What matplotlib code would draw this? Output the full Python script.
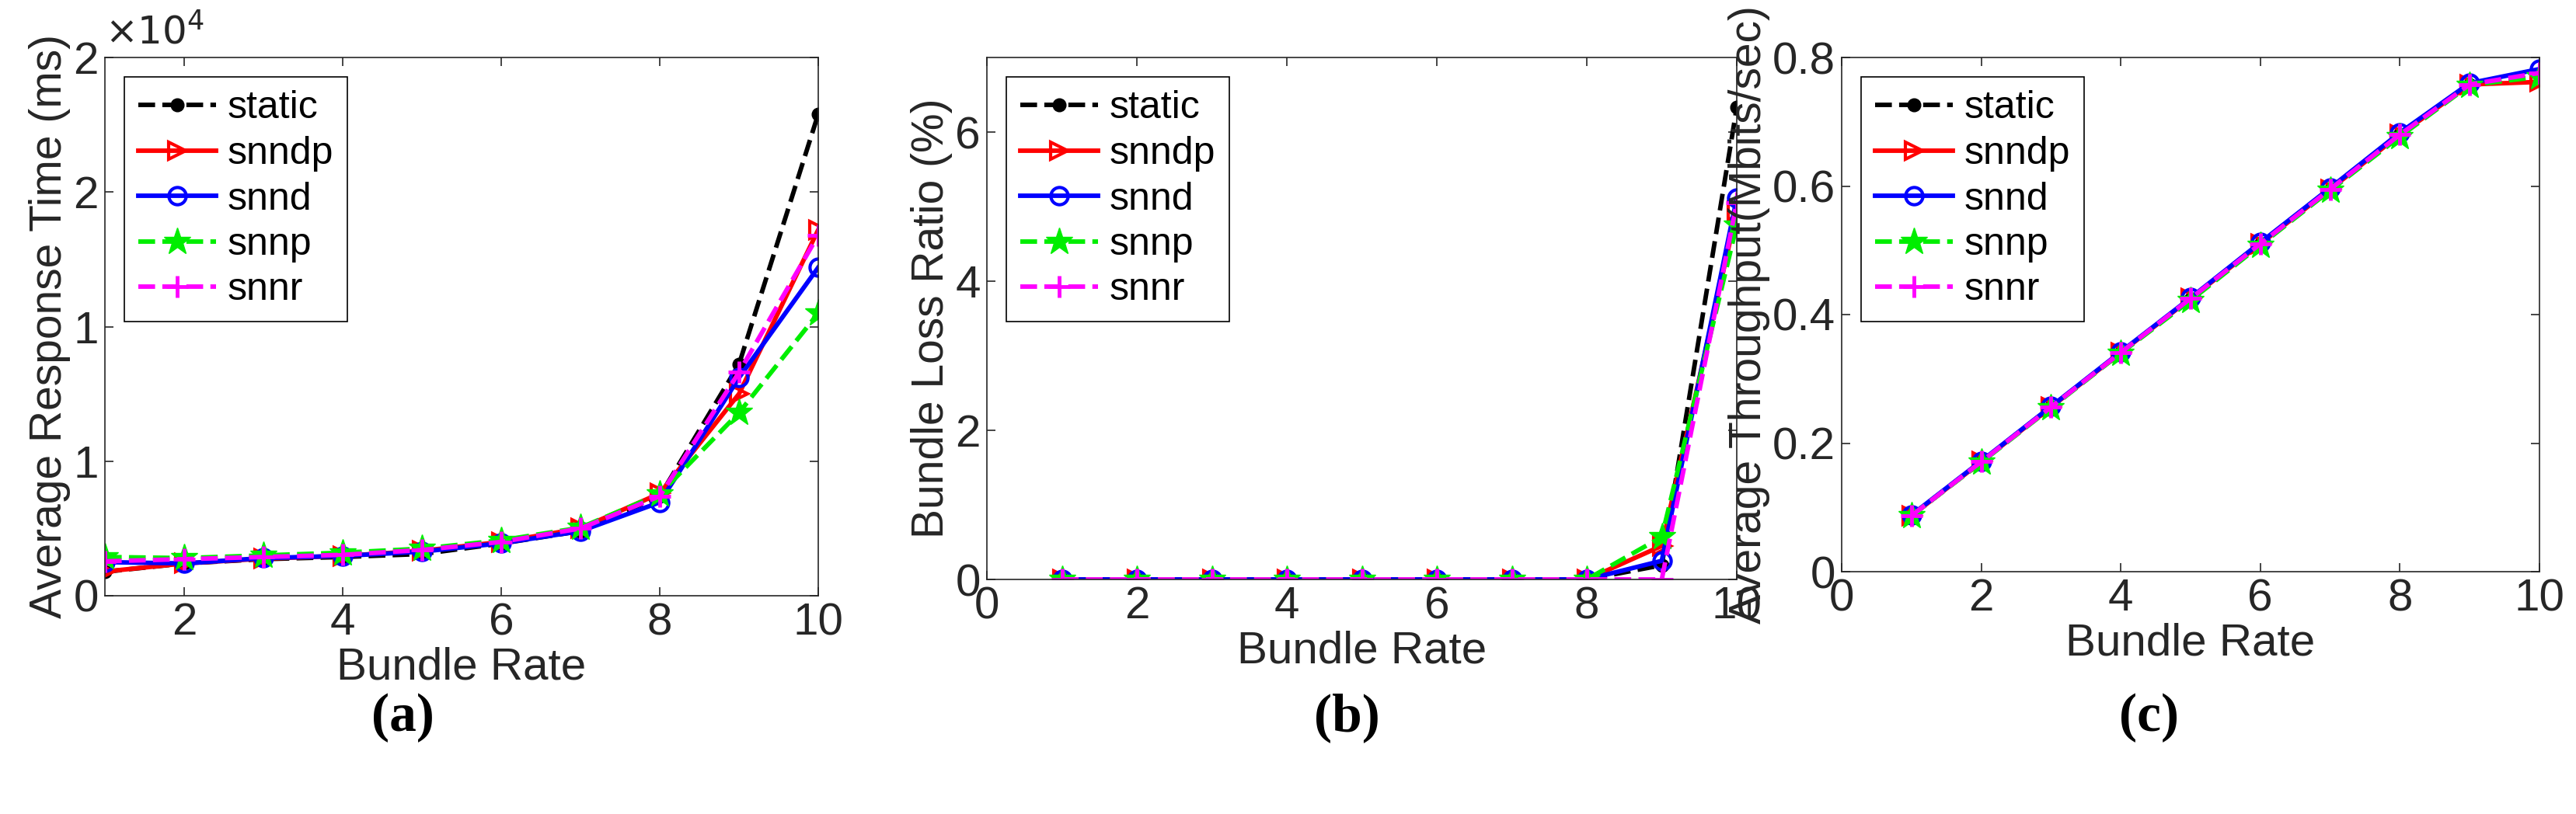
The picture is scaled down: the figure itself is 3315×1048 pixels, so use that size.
import matplotlib
matplotlib.use("Agg")
import matplotlib.pyplot as plt
from matplotlib.ticker import FixedLocator, FixedFormatter

plt.rcParams['font.family'] = ['Liberation Sans', 'DejaVu Sans']

bundle_rate = [1, 2, 3, 4, 5, 6, 7, 8, 9, 10]
names = ['static', 'snndp', 'snnd', 'snnp', 'snnr']

# (a) average response time, x 10^4 ms
resp_static = [0.089, 0.12, 0.136, 0.144, 0.155, 0.194, 0.24, 0.37, 0.86, 1.79]
resp_snndp = [0.09, 0.12, 0.138, 0.148, 0.167, 0.20, 0.25, 0.38, 0.75, 1.36]
resp_snnd = [0.125, 0.12, 0.14, 0.148, 0.164, 0.195, 0.24, 0.347, 0.81, 1.22]
resp_snnp = [0.144, 0.14, 0.15, 0.16, 0.175, 0.206, 0.253, 0.378, 0.68, 1.05]
resp_snnr = [0.128, 0.136, 0.144, 0.152, 0.17, 0.20, 0.25, 0.37, 0.83, 1.34]

# (b) bundle loss ratio, %
loss_static = [0, 0, 0, 0, 0, 0, 0, 0, 0.19, 6.33]
loss_snndp = [0, 0, 0, 0, 0, 0, 0, 0, 0.45, 4.94]
loss_snnd = [0, 0, 0, 0, 0, 0, 0, 0, 0.25, 5.11]
loss_snnp = [0, 0, 0, 0, 0, 0, 0, 0, 0.57, 4.75]
loss_snnr = [0, 0, 0, 0, 0, 0, 0, 0, 0, 5.05]

# (c) average throughput, Mbits/sec
thr_static = [0.087, 0.171, 0.256, 0.341, 0.424, 0.51, 0.595, 0.68, 0.758, 0.775]
thr_snndp = [0.087, 0.171, 0.256, 0.341, 0.425, 0.51, 0.595, 0.68, 0.758, 0.762]
thr_snnd = [0.088, 0.172, 0.257, 0.342, 0.426, 0.512, 0.597, 0.683, 0.76, 0.782]
thr_snnp = [0.087, 0.17, 0.255, 0.34, 0.422, 0.508, 0.593, 0.677, 0.757, 0.77]
thr_snnr = [0.087, 0.171, 0.256, 0.341, 0.425, 0.51, 0.595, 0.68, 0.758, 0.776]

styles = [
    dict(color='black', ls='--', marker='.', ms=24),
    dict(color='red', ls='-', marker='>', ms=16, mfc='none', mew=3),
    dict(color='blue', ls='-', marker='o', ms=16, mfc='none', mew=3),
    dict(color='#00ee00', ls='--', marker='*', ms=26),
    dict(color='magenta', ls='--', marker='+', ms=20, mew=3.5),
]

W, H = 3315, 1048
fig = plt.figure(figsize=(W / 100, H / 100), dpi=100)

def mkax(l, r, t, b):
    return fig.add_axes([l / W, 1 - b / H, (r - l) / W, (b - t) / H])

axa = mkax(135, 1053, 74, 767)
axb = mkax(1270, 2235, 74, 746)
axc = mkax(2370, 3268, 74, 736)

panels = [
    (axa, [resp_static, resp_snndp, resp_snnd, resp_snnp, resp_snnr], 'Average Response Time (ms)'),
    (axb, [loss_static, loss_snndp, loss_snnd, loss_snnp, loss_snnr], 'Bundle Loss Ratio (%)'),
    (axc, [thr_static, thr_snndp, thr_snnd, thr_snnp, thr_snnr], 'Average Throughput(Mbits/sec)'),
]

for ax, series, ylab in panels:
    for name, vals, st in zip(names, series, styles):
        ax.plot(bundle_rate, vals, lw=4.2, label=name, **st)
    ax.set_xlabel('Bundle Rate', fontsize=42, color='#262626', labelpad=2)
    ax.set_ylabel(ylab, fontsize=41, color='#262626', labelpad=2)
    ax.tick_params(labelsize=42, colors='#262626', direction='in', length=8,
                   top=True, right=True, width=1.2, pad=6)
    for s in ax.spines.values():
        s.set_linewidth(1.2)
        s.set_color('#262626')
    leg = ax.legend(loc='upper left', fontsize=36, fancybox=False, framealpha=1,
                    edgecolor='black', handlelength=2.0, handletextpad=0.3,
                    borderpad=0.35, labelspacing=0.25)
    leg.get_frame().set_linewidth(1.2)

axa.set_xlim(1, 10)
axa.set_xticks([2, 4, 6, 8, 10])
axa.set_ylim(0, 2)
axa.yaxis.set_major_locator(FixedLocator([0, 0.5, 1, 1.5, 2]))
axa.yaxis.set_major_formatter(FixedFormatter(['0', '1', '1', '2', '2']))
axa.text(0.0, 1.01, r'$\times10^4$', transform=axa.transAxes, fontsize=36,
         color='#262626', va='bottom', ha='left')

axb.set_xlim(0, 10)
axb.set_ylim(0, 7)
axb.set_xticks([0, 2, 4, 6, 8, 10])

axc.set_xlim(0, 10)
axc.set_ylim(0, 0.8)
axc.set_xticks([0, 2, 4, 6, 8, 10])
axc.set_yticks([0, 0.2, 0.4, 0.6, 0.8])
axc.set_yticklabels(['0', '0.2', '0.4', '0.6', '0.8'])

for x, lab in [(518, '(a)'), (1733, '(b)'), (2765, '(c)')]:
    fig.text(x / W, 1 - 924 / H, lab, fontsize=50, ha='center', va='center',
             fontweight='bold', family=['Liberation Serif', 'DejaVu Serif'])

fig.savefig('out.png', dpi=100)
